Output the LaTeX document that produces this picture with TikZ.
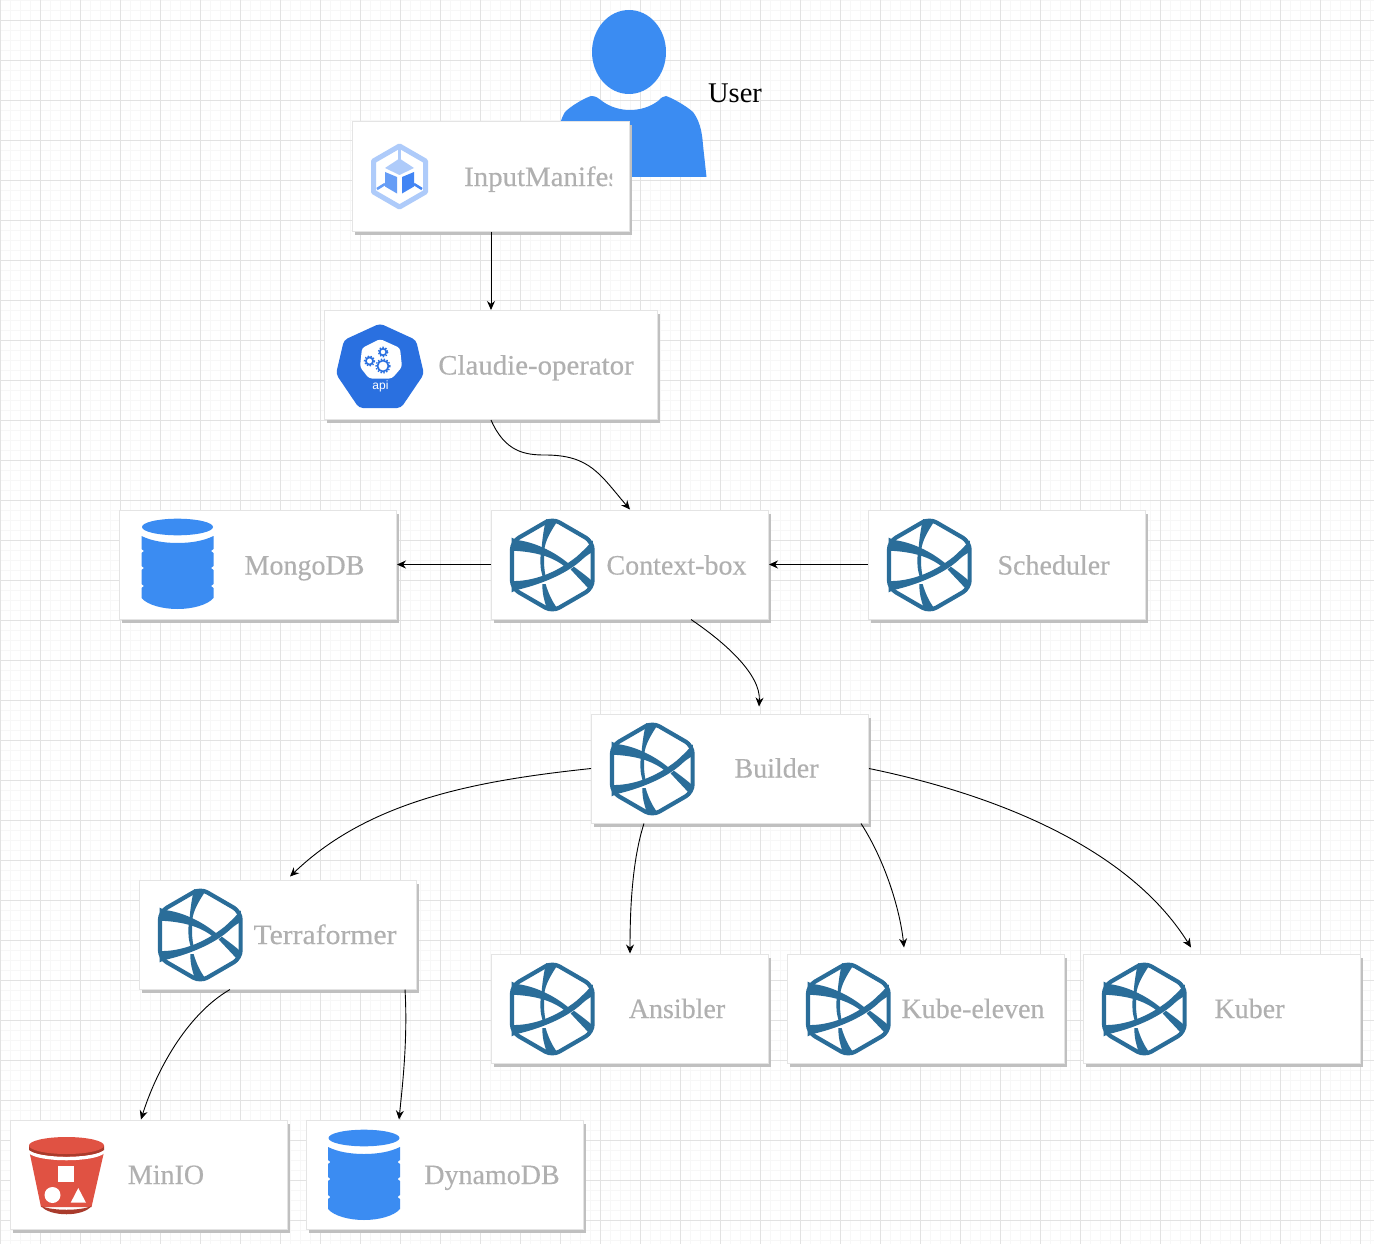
\documentclass[tikz,border=0pt]{standalone}
\usepackage{fontspec}
\setmainfont{Liberation Serif}
\newfontfamily\apifont{Liberation Sans}
\newfontfamily\cardfont[FakeBold=0.35]{Liberation Serif}
\usetikzlibrary{arrows.meta,shadows}
\definecolor{gridmajor}{HTML}{E2E2E2}
\definecolor{gridminor}{HTML}{F7F7F7}
\definecolor{boxedge}{HTML}{E4E4E4}
\definecolor{boxshade}{HTML}{C0C0C0}
\definecolor{labelgray}{HTML}{B0B0B0}
\definecolor{hexblue}{HTML}{2A6D99}
\definecolor{userblue}{HTML}{3B8CF2}
\definecolor{apiblue}{HTML}{2A70E0}
\definecolor{crdlight}{HTML}{AECBFA}
\definecolor{crdmid}{HTML}{669DF6}
\definecolor{crddark}{HTML}{4285F4}
\definecolor{bucketred}{HTML}{E05243}
\definecolor{bucketdark}{HTML}{A93B2C}
\tikzset{
  x=1pt,y=-1pt,
  cardbox/.style={draw=boxedge,line width=1pt,fill=white,minimum width=277pt,minimum height=109pt,inner sep=0pt,
    drop shadow={shadow xshift=2pt,shadow yshift=-3.5pt,fill=boxshade,opacity=1}},
  cardtext/.style={text=labelgray,font=\cardfont\fontsize{28}{30}\selectfont,inner sep=0pt,anchor=base},
  link/.style={draw=black,line width=0.9pt,-{Stealth[length=9pt,width=8pt]}},
  hexlogo/.pic={
    \begin{scope}[x=0.3333pt,y=-0.3333pt]
      \draw[hexblue,line width=4.2pt,rounded corners=8pt,line join=round]
        (0,-140)--(121,-70)--(121,70)--(0,140)--(-121,70)--(-121,-70)--cycle;
      \fill[hexblue] (-122,-82) -- (-107,-75) .. controls (-60,-70) and (0,-45) .. (48,-5)
        -- (38,5) .. controls (0,-25) and (-50,-40) .. (-122,-43) -- cycle;
      \fill[hexblue] (65,5) .. controls (85,20) and (105,35) .. (122,50)
        -- (108,70) .. controls (90,50) and (70,30) .. (55,13) -- cycle;
      \fill[hexblue] (-122,48) .. controls (-60,50) and (10,25) .. (73,-25)
        .. controls (90,-40) and (105,-55) .. (122,-74)
        -- (122,-40) .. controls (105,-30) and (95,-22) .. (88,-15)
        .. controls (50,20) and (-20,55) .. (-107,75) -- (-122,82) -- cycle;
      \fill[hexblue] (-19,-138) -- (13,-128) .. controls (-5,-100) and (-20,-75) .. (-24,-47)
        -- (-32,-50) .. controls (-30,-80) and (-25,-110) .. (-19,-138) -- cycle;
      \fill[hexblue] (-35,-30) -- (-24,-30) .. controls (-26,-5) and (-24,15) .. (-20,35)
        -- (-27,40) .. controls (-36,15) and (-37,-5) .. (-35,-30) -- cycle;
      \fill[hexblue] (-30,57) -- (-20,57) .. controls (-12,85) and (0,110) .. (15,130)
        -- (-17,128) .. controls (-25,105) and (-30,85) .. (-30,57) -- cycle;
    \end{scope}
  },
  dbicon/.pic={
    \fill[userblue] (-36,-28) -- (-36,-15) -- (-33.5,-13) -- (-36,-11) -- (-36,2) -- (-33.5,4) -- (-36,6) -- (-36,20) -- (-33.5,22) -- (-36,24) -- (-36,34)
      .. controls (-30,41) and (-15,45) .. (0,45) .. controls (15,45) and (30,41) .. (36,34)
      -- (36,24) -- (33.5,22) -- (36,20) -- (36,6) -- (33.5,4) -- (36,2) -- (36,-11) -- (33.5,-13) -- (36,-15) -- (36,-28)
      .. controls (26,-23) and (13,-21) .. (0,-21) .. controls (-13,-21) and (-26,-23) .. (-36,-28) -- cycle;
    \fill[userblue] (0,-37) ellipse [x radius=35.5,y radius=8.3];
  }
}
\begin{document}
\begin{tikzpicture}
\useasboundingbox (0,0) rectangle (1374,1244);
\fill[white] (0,0) rectangle (1374,1244);
\foreach \i in {0,10,...,1370} \draw[gridminor,line width=0.8pt] (\i,0) -- (\i,1244);
\foreach \j in {0,10,...,1240} \draw[gridminor,line width=0.8pt] (0,\j) -- (1374,\j);
\foreach \i in {0,40,...,1360} \draw[gridmajor,line width=0.7pt] (\i,0) -- (\i,1244);
\foreach \j in {20,60,...,1240} \draw[gridmajor,line width=0.7pt] (0,\j) -- (1374,\j);

% user
\fill[userblue] (629,52) ellipse [x radius=37,y radius=42];
\fill[userblue] (553,177) .. controls (555,150) and (557,125) .. (565,112)
  .. controls (572,105) and (585,98) .. (591,96) .. controls (596,96) and (598,98) .. (602,101)
  .. controls (610,107) and (620,110) .. (630,110) .. controls (640,110) and (650,107) .. (658,101)
  .. controls (661,98) and (663,96) .. (666,96) .. controls (672,98) and (685,105) .. (693,112)
  .. controls (699,120) and (702,130) .. (703,145) -- (706.5,177) -- cycle;
\node[font=\fontsize{28.5}{30}\selectfont,text=black,inner sep=0pt,anchor=base] (userlabel) at (735,102.5) {User};

% cards
\node[cardbox] (input) at (491,176.5) {};
\node[cardbox,minimum width=333pt] (operator) at (491,365) {};
\node[cardbox] (mongo) at (258,564.5) {};
\node[cardbox] (context) at (630,564.5) {};
\node[cardbox] (scheduler) at (1007,564.5) {};
\node[cardbox] (builder) at (730,768.5) {};
\node[cardbox] (terraformer) at (278,934.5) {};
\node[cardbox] (ansibler) at (630,1008.5) {};
\node[cardbox] (kubeeleven) at (926,1008.5) {};
\node[cardbox] (kuber) at (1222,1008.5) {};
\node[cardbox] (minio) at (149,1174.5) {};
\node[cardbox] (dynamo) at (445,1174.5) {};

% labels
\begin{scope}
  \clip (353,122) rectangle (612,231);
  \node[cardtext,anchor=base west,xscale=1.03] (inputlabel) at (464,186) {InputManifest};
\end{scope}
\node[cardtext,xscale=1.03] (operatorlabel) at (536,374.5) {Claudie-operator};
\node[cardtext] (mongolabel) at (304.5,574.5) {MongoDB};
\node[cardtext] (contextlabel) at (676.5,574.5) {Context-box};
\node[cardtext] (schedulerlabel) at (1053.5,574.5) {Scheduler};
\node[cardtext] (builderlabel) at (776.5,777.5) {Builder};
\node[cardtext,xscale=1.06] (terraformerlabel) at (325,944) {Terraformer};
\node[cardtext] (ansiblerlabel) at (677,1018) {Ansibler};
\node[cardtext] (kubeelevenlabel) at (973,1018) {Kube-eleven};
\node[cardtext] (kuberlabel) at (1249.5,1018) {Kuber};
\node[cardtext] (miniolabel) at (166,1184) {MinIO};
\node[cardtext] (dynamolabel) at (492,1184) {DynamoDB};

% hex logos
\path (552.3,565) pic {hexlogo};
\path (929.3,565) pic {hexlogo};
\path (652.3,769) pic {hexlogo};
\path (200.3,935) pic {hexlogo};
\path (552.3,1009) pic {hexlogo};
\path (848.3,1009) pic {hexlogo};
\path (1144.3,1009) pic {hexlogo};

% databases
\path (177.5,564) pic {dbicon};
\path (364,1175) pic {dbicon};

% CRD icon
\draw[crdlight,line width=5pt,line join=round] (399.5,146) -- (425.5,161) -- (425.5,192) -- (399.5,207) -- (373.5,192) -- (373.5,161) -- cycle;
\draw[crdlight,line width=2.5pt] (399.5,146) -- (399.5,160);
\fill[crdlight] (399.5,158.5) -- (414,168) -- (399.5,175) -- (385,168) -- cycle;
\fill[crdmid] (385,172) -- (397,177) -- (397,193.5) -- (385,186.5) -- cycle;
\fill[crddark] (402,177) -- (414,172) -- (414,186.5) -- (402,193.5) -- cycle;
\draw[crdmid,line width=2.5pt] (377,189) -- (385,184);
\draw[crddark,line width=2.5pt] (422,189) -- (414,184);

% API icon
\fill[apiblue,rounded corners=4pt] (380,323.5) -- (416,340) -- (424,374) -- (401,408) -- (359,408) -- (336,374) -- (344,340) -- cycle;
\fill[white,rounded corners=3pt] (380,339) -- (400,348) -- (402,367) -- (392,378.5) -- (369,378.5) -- (360,367) -- (362,348) -- cycle;
\foreach \cx/\cy/\r in {383/366/5.5,369.5/361/3.6,383/352/3.3}{
  \draw[apiblue,line width=1.7pt] (\cx,\cy) circle [radius=\r];
  \draw[apiblue,line width=1.4pt,dash pattern=on 1.4pt off 1.6pt] (\cx,\cy) circle [radius=\r+1.4];
}
\node[text=white,font=\apifont\fontsize{12}{12}\selectfont,inner sep=0pt] (apilabel) at (380.5,386) {api};

% bucket icon
\fill[bucketred] (29.5,1152) -- (104,1152) -- (91.5,1207) -- (41,1207) -- cycle;
\fill[bucketdark] (41,1206) .. controls (50,1217) and (83,1217) .. (91.5,1206) .. controls (80,1211) and (53,1211) .. (41,1206) -- cycle;
\fill[white] (29,1150) .. controls (40,1159) and (93,1159) .. (104,1150) -- (104,1153.5) .. controls (93,1162.5) and (40,1162.5) .. (29,1153.5) -- cycle;
\fill[bucketdark] (29,1145.5) -- (29,1150) .. controls (40,1158.7) and (93,1158.7) .. (104,1150) -- (104,1145.5) -- cycle;
\fill[bucketred] (66.5,1145.5) ellipse [x radius=37.5,y radius=8.5];
\fill[white] (57.5,1165.5) rectangle (74,1182);
\fill[white] (52.5,1195) circle [radius=8];
\fill[white] (78.3,1188) -- (86,1202.7) -- (70.7,1202.7) -- cycle;

% connectors
\draw[link] (input.south) -- (operator.north);
\draw[link] (operator.south) .. controls +(14,32) and +(-20,0) .. (545,455) .. controls +(45,0) and +(-30,-35) .. (context.north);
\draw[link] (context.west) -- (mongo.east);
\draw[link] (scheduler.west) -- (context.east);
\draw[link] ([xshift=61pt]context.south) .. controls +(34,23) and +(2,-32) .. ([xshift=29pt,yshift=7pt]builder.north);
\draw[link] (builder.west) .. controls +(-112,12) and +(80,-77) .. ([xshift=12pt,yshift=3pt]terraformer.north);
\draw[link] ([xshift=-86pt]builder.south) .. controls +(-12,37) and +(0,-43) .. (ansibler.north);
\draw[link] ([xshift=131pt]builder.south) .. controls +(24,37) and +(-4,-38) .. ([xshift=-22pt,yshift=6pt]kubeeleven.north);
\draw[link] (builder.east) .. controls +(131,27) and +(-61,-98) .. ([xshift=-31pt,yshift=6pt]kuber.north);
\draw[link] ([xshift=-48pt]terraformer.south) .. controls +(-45,26) and +(14,-45) .. ([xshift=-8pt]minio.north);
\draw[link] ([xshift=127pt]terraformer.south) .. controls +(3,51) and +(3,-30) .. ([xshift=-46pt]dynamo.north);
\end{tikzpicture}
\end{document}
